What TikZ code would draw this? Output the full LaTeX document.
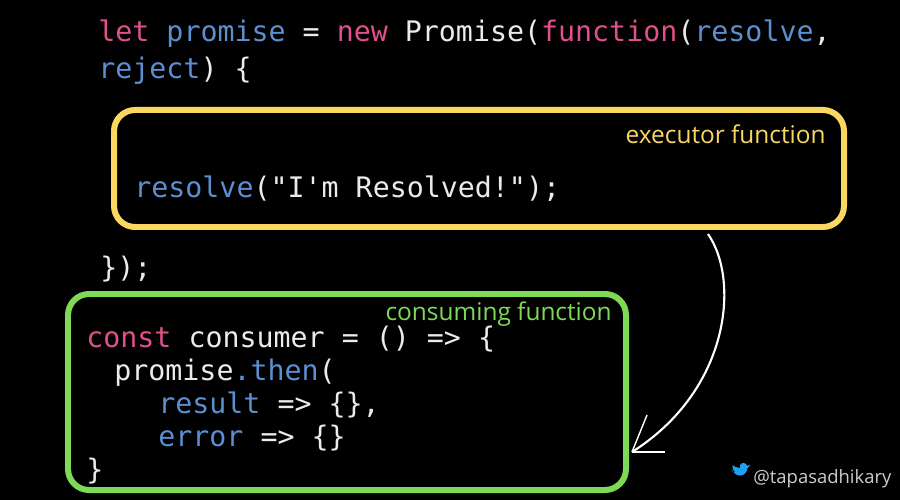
\documentclass[tikz,border=0pt]{standalone}
\usepackage{fontspec}
\setmainfont{Open Sans}
\setmonofont{DejaVu Sans Mono}
\definecolor{kwpink}{HTML}{E0508C}
\definecolor{idblue}{HTML}{5B8FD0}
\definecolor{boxyellow}{HTML}{F8D860}
\definecolor{boxgreen}{HTML}{7ED957}
\definecolor{twblue}{HTML}{1DA1F2}
\newcommand{\kw}[1]{\textcolor{kwpink}{#1}}
\newcommand{\id}[1]{\textcolor{idblue}{#1}}
\tikzset{
  code/.style={anchor=base west, inner sep=0pt, text=white!92!black, font=\ttfamily\fontsize{16.1}{18}\selectfont},
  tag/.style={anchor=base east, inner sep=0pt, font=\fontsize{13.9}{16}\selectfont},
  frame/.style={rounded corners=12pt, line width=0.12cm},
}
\begin{document}
\begin{tikzpicture}[x=0.02cm, y=-0.02cm]
    \fill[black] (0,0) rectangle (900,500);
    \useasboundingbox (0,0) rectangle (900,500);

    % Boxes
    \draw [frame, boxyellow] (114,110) rectangle (844,227);
    \draw [frame, boxgreen] (68,294) rectangle (626,490);

    % Code lines
    \node [code] (l1) at (98,42) {\kw{let} \id{promise} = \kw{new} Promise(\kw{function}(\id{resolve},};
    \node [code] (l2) at (98,79) {\id{reject}) \{};
    \node [code] (res) at (134,197) {\id{resolve}("I'm Resolved!");};
    \node [code] (l3) at (100,277) {\});};
    \node [code] (c1) at (86,347) {\kw{const} consumer = () => \{};
    \node [code] (c2) at (114,380) {promise\id{.then}(};
    \node [code] (c3) at (158,413) {\id{result} => \{\},};
    \node [code] (c4) at (158,446) {\id{error} => \{\}};
    \node [code] (c5) at (86,479) {\}};

    % Box labels
    \node [tag, boxyellow] (exec) at (826,144) {executor function};
    \node [tag, boxgreen] (cons) at (612,320) {consuming function};

    % Arrow
    \coordinate (from) at (708,234);
    \coordinate (to) at (632,452);
    \draw [white, line width=1.2pt] (from) .. controls (740,280) and (730,390) .. (to);
    \draw [white, line width=0.8pt] (to) -- (647,415);
    \draw [white, line width=0.8pt] (to) -- (665,452);

    % Handle
    \node [anchor=base west, inner sep=0pt, text=white!80!black, font=\fontsize{10.5}{12}\selectfont] (handle) at (753,483) {@tapasadhikary};
    \begin{scope}[shift={(731,465)}, scale=1.5]
    \fill [twblue] (0,3) .. controls (4,9) and (10,8) .. (11,2)
        -- (13,0) -- (11,0.5) .. controls (9,-3) and (5,-1) .. (6,2)
        .. controls (4,2) and (2,1) .. (1,0) .. controls (0.5,2) and (1.5,4) .. (3,5)
        .. controls (2,5.5) and (1,5) .. (0,3) -- cycle;
    \end{scope}
\end{tikzpicture}
\end{document}
